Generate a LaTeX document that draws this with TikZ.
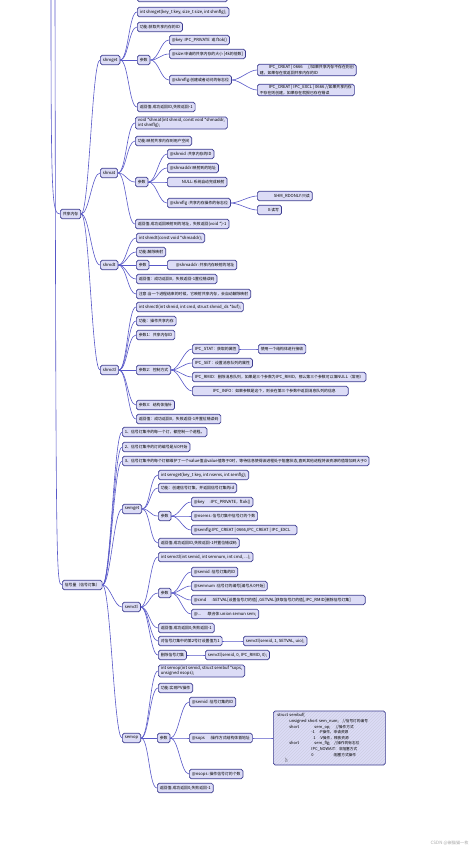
\documentclass[tikz,border=0pt]{standalone}
\usepackage{fontspec}
\setmainfont{Noto Sans CJK SC}
\newfontfamily\latfam{Noto Sans CJK SC}
\newfontfamily\cjkfam{Noto Sans CJK SC}[Scale=0.92]
% smaller ideographs, same Latin
\newcount\cjkc
\cjkc="21 \loop \XeTeXcharclass\cjkc=0 \advance\cjkc 1 \ifnum\cjkc<"7F \repeat
\cjkc="3000 \loop \XeTeXcharclass\cjkc=7 \advance\cjkc 1 \ifnum\cjkc<"3040 \repeat
\cjkc="4E00 \loop \XeTeXcharclass\cjkc=7 \advance\cjkc 1 \ifnum\cjkc<"A000 \repeat
\cjkc="FF00 \loop \XeTeXcharclass\cjkc=7 \advance\cjkc 1 \ifnum\cjkc<"FFF0 \repeat
\XeTeXinterchartoks 0 7 = {\cjkfam}
\XeTeXinterchartoks 4095 7 = {\cjkfam}
\XeTeXinterchartoks 7 0 = {\latfam}
\XeTeXinterchartoks 4095 0 = {\latfam}
\XeTeXinterchartokenstate=1
\usetikzlibrary{patterns}
\definecolor{mmfill}{HTML}{DCDCF6}
\definecolor{mmdraw}{HTML}{3C3C90}
\definecolor{mmlink}{HTML}{5858C8}
\tikzset{
  box/.style={draw=mmdraw, fill=mmfill, line width=0.7pt, rounded corners=1.8pt,
    anchor=west, inner xsep=2.5pt, inner ysep=1.2pt, minimum height=9.5pt,
    font=\fontsize{4.2}{5.2}\selectfont, align=left},
  link/.style={draw=mmlink, line width=0.6pt},
}
\begin{document}
\begin{tikzpicture}[x=1pt, y=-1pt]
  \useasboundingbox (0,0) rectangle (474,850);
  % shared memory
  \node[box] (shm) at (60,214) {共享内存};
  \node[box, minimum width=90pt] (prev) at (137,-3) {};
  \node[box] (shmget) at (100,60) {shmget};
    \node[box] (g1) at (137,12) {int shmget(key\_t key, size\_t size, int shmflg);};
    \node[box] (g2) at (137,27) {功能:获取共享内存的ID};
    \node[box] (g3) at (137,60) {参数};
      \node[box] (g31) at (169,40) {@key :IPC\_PRIVATE \ 或 ftok()};
      \node[box] (g32) at (169,54) {@size:申请的共享内存的大小 [4k的倍数]};
      \node[box] (g33) at (169,80) {@shmflg:创建或者访问的标志位};
        \node[box] (g331) at (257,70) {\hspace*{9pt}IPC\_CREAT | 0666 \quad //如果共享内存不存在则创\\建，如果存在就返回共享内存的ID};
        \node[box] (g332) at (257,90) {\hspace*{9pt}IPC\_CREAT | IPC\_EXCL | 0666 //如果共享内存\\不存在则创建，如果存在就报已存在错误};
    \node[box] (g4) at (137,107) {返回值:成功返回ID,失败返回-1};
  \node[box] (shmat) at (100,173) {shmat};
    \node[box] (a1) at (135,123) {void *shmat(int shmid, const void *shmaddr,\\int shmflg);};
    \node[box] (a2) at (135,141) {功能:映射共享内存到用户空间};
    \node[box] (a3) at (135,182) {参数};
      \node[box] (a31) at (167,154) {@shmid :共享内存的ID};
      \node[box] (a32) at (167,168) {@shmaddr:映射到的地址};
      \node[box] (a33) at (167,182) {\hspace*{12pt}NULL:系统自动完成映射};
      \node[box] (a34) at (167,203) {@shmflg :共享内存操作的标志位};
        \node[box] (a341) at (257,196) {\hspace*{14pt}SHM\_RDONLY:只读};
        \node[box] (a342) at (257,210) {\hspace*{8pt}0:读写};
    \node[box] (a4) at (135,224) {返回值:成功返回映射到的地址，失败返回(void *)-1};
  \node[box] (shmdt) at (100,265) {shmdt};
    \node[box] (d1) at (136,238) {int shmdt(const void *shmaddr);};
    \node[box] (d2) at (136,252) {功能:解除映射};
    \node[box] (d3) at (136,265) {参数};
      \node[box] (d31) at (167,265) {\hspace*{6pt}@shmaddr :共享内存映射的地址};
    \node[box] (d4) at (136,279) {返回值：成功返回0，失败返回-1置位错误码};
    \node[box] (d5) at (136,294) {注意:当一个进程结束的时候，它映射共享内存，会自动解除映射};
  \node[box] (shmctl) at (100,370) {shmctl};
    \node[box] (c1) at (136,307) {int shmctl(int shmid, int cmd, struct shmid\_ds *buf);};
    \node[box] (c2) at (136,321) {功能：操作共享内存};
    \node[box] (c3) at (136,335) {参数1：共享内存ID};
    \node[box] (c4) at (136,370) {参数2：控制方式};
      \node[box] (c41) at (192,349) {IPC\_STAT：获取的属性};
        \node[box] (c411) at (258,349) {使用一个结构体进行接收};
      \node[box] (c42) at (192,363) {IPC\_SET：设置消息队列的属性};
      \node[box] (c43) at (192,377) {IPC\_RMID：删除消息队列，如果是三个参数为IPC\_RMID，那么第三个参数可以填NULL（常用）};
      \node[box] (c44) at (192,391) {\hspace*{18pt}IPC\_INFO：如果参数是这个，则会在第三个参数中返回消息队列的信息\hspace*{10pt}};
    \node[box] (c5) at (136,405) {参数3：结构体指针};
    \node[box] (c6) at (136,419) {返回值：成功返回0，失败返回-1并置位错误码};
  % semaphore set
  \node[box] (sem) at (62,585) {信号量（信号灯集）};
  \node[box] (s1) at (122,432) {1、信号灯集中的每一个灯，都控制一个进程。};
  \node[box] (s2) at (122,447) {2、信号灯集中的灯的编号是从0开始};
  \node[box] (s3) at (122,461) {3、信号灯集中的每个灯都维护了一个value值当value值等于0时，等待信息使得该进程处于阻塞状态,直到其他进程将该资源的值增加到大于0};
  \node[box] (semget) at (122,509) {semget};
    \node[box] (sg1) at (158,475) {int semget(key\_t key, int nsems, int semflg);};
    \node[box] (sg2) at (158,488) {功能：创建信号灯集，并返回信号灯集的id};
    \node[box] (sg3) at (158,516) {参数};
      \node[box] (sg31) at (191,502) {@key \quad :IPC\_PRIVATE，ftok()};
      \node[box] (sg32) at (191,516) {@nsems :信号灯集中信号灯的个数};
      \node[box] (sg33) at (191,530) {@semflg:IPC\_CREAT | 0666,IPC\_CREAT | IPC\_EXCL\hspace*{4pt}};
    \node[box] (sg4) at (158,543) {返回值:成功返回ID,失败返回-1并置位错误码};
  \node[box] (semctl) at (122,607) {semctl};
    \node[box] (sc1) at (158,557) {int semctl(int semid, int semnum, int cmd, ...);};
    \node[box] (sc2) at (158,593) {参数};
      \node[box] (sc21) at (191,572) {@semid :信号灯集的ID};
      \node[box] (sc22) at (191,586) {@semnum :信号灯的编号[编号从0开始]};
      \node[box] (sc23) at (191,600) {@cmd \quad :SETVAL[设置信号灯的值] ,GETVAL[获取信号灯的值],IPC\_RMID[删除信号灯集]\hspace*{12pt}};
      \node[box] (sc24) at (191,614) {@... \quad :联合体 union semun sem;};
    \node[box] (sc3) at (158,628) {返回值:成功返回0,失败返回-1};
    \node[box] (sc4) at (158,641) {对信号灯集中的第2号灯设置值为1};
      \node[box] (sc41) at (243,641) {semctl(semid, 1, SETVAL, uio);};
    \node[box] (sc5) at (158,655) {删除信号灯集};
      \node[box] (sc51) at (205,655) {semctl(semid, 0, IPC\_RMID, 0);};
  \node[box] (semop) at (122,738) {semop};
    \node[box] (so1) at (158,671) {int semop(int semid, struct sembuf *sops,\\unsigned nsops);};
    \node[box] (so2) at (158,688) {功能:实现PV操作};
    \node[box] (so3) at (157,738) {参数};
      \node[box] (so31) at (189,702) {@semid :信号灯集的ID};
      \node[box] (so32) at (189,738) {@sops \quad :操作方式结构体首地址};
        \node[box, minimum width=112pt, minimum height=54pt, text width=104pt,
          pattern=north east lines, pattern color=mmdraw!25,
          preaction={fill=mmfill}, font=\fontsize{4}{5.6}\selectfont] (so321) at (273,738)
          {struct sembuf\{\\
           \hspace*{12pt}unsigned short sem\_num;\quad //信号灯的编号\\
           \hspace*{12pt}short \hspace*{14pt}sem\_op; \quad //操作方式\\
           \hspace*{34pt}-1\quad :P操作，申请资源\\
           \hspace*{36pt}1\quad :V操作，释放资源\\
           \hspace*{12pt}short \hspace*{14pt}sem\_flg;\quad //操作的标志位\\
           \hspace*{34pt}IPC\_NOWAIT：非阻塞方式\\
           \hspace*{34pt}0 \hspace*{18pt}:阻塞方式操作\\
           \hspace*{8pt}\};};
      \node[box] (so33) at (189,774) {@nsops :操作信号灯的个数};
    \node[box] (so4) at (157,788) {返回值:成功返回0,失败返回-1};
  \node[text=gray!70, font=\fontsize{4.5}{5}\selectfont, anchor=east] (mark) at (472,843) {CSDN @嵌猫猫一枚};
  % connectors
  \coordinate (top1) at (51,-2);
  \coordinate (top2) at (55,-2);
  \draw[link] (top1) .. controls (51,200) and (52,214) .. (shm.west);
  \draw[link] (top2) .. controls (56,570) and (56,585) .. (sem.west);
  \foreach \p/\c in {shm/shmget, shm/shmat, shm/shmdt, shm/shmctl,
      shmget/g1, shmget/g2, shmget/g3, shmget/g4, g3/g31, g3/g32, g3/g33, g33/g331, g33/g332,
      shmat/a1, shmat/a2, shmat/a3, shmat/a4, a3/a31, a3/a32, a3/a33, a3/a34, a34/a341, a34/a342,
      shmdt/d1, shmdt/d2, shmdt/d3, shmdt/d4, shmdt/d5, d3/d31,
      shmctl/c1, shmctl/c2, shmctl/c3, shmctl/c4, shmctl/c5, shmctl/c6,
      c4/c41, c4/c42, c4/c43, c4/c44, c41/c411,
      sem/s1, sem/s2, sem/s3, sem/semget, sem/semctl, sem/semop,
      semget/sg1, semget/sg2, semget/sg3, semget/sg4, sg3/sg31, sg3/sg32, sg3/sg33,
      semctl/sc1, semctl/sc2, semctl/sc3, semctl/sc4, semctl/sc5,
      sc2/sc21, sc2/sc22, sc2/sc23, sc2/sc24, sc4/sc41, sc5/sc51,
      semop/so1, semop/so2, semop/so3, semop/so4, so3/so31, so3/so32, so3/so33, so32/so321}
    \draw[link] (\p.east) .. controls +(8,0) and +(-8,0) .. (\c.west);
\end{tikzpicture}
\end{document}
